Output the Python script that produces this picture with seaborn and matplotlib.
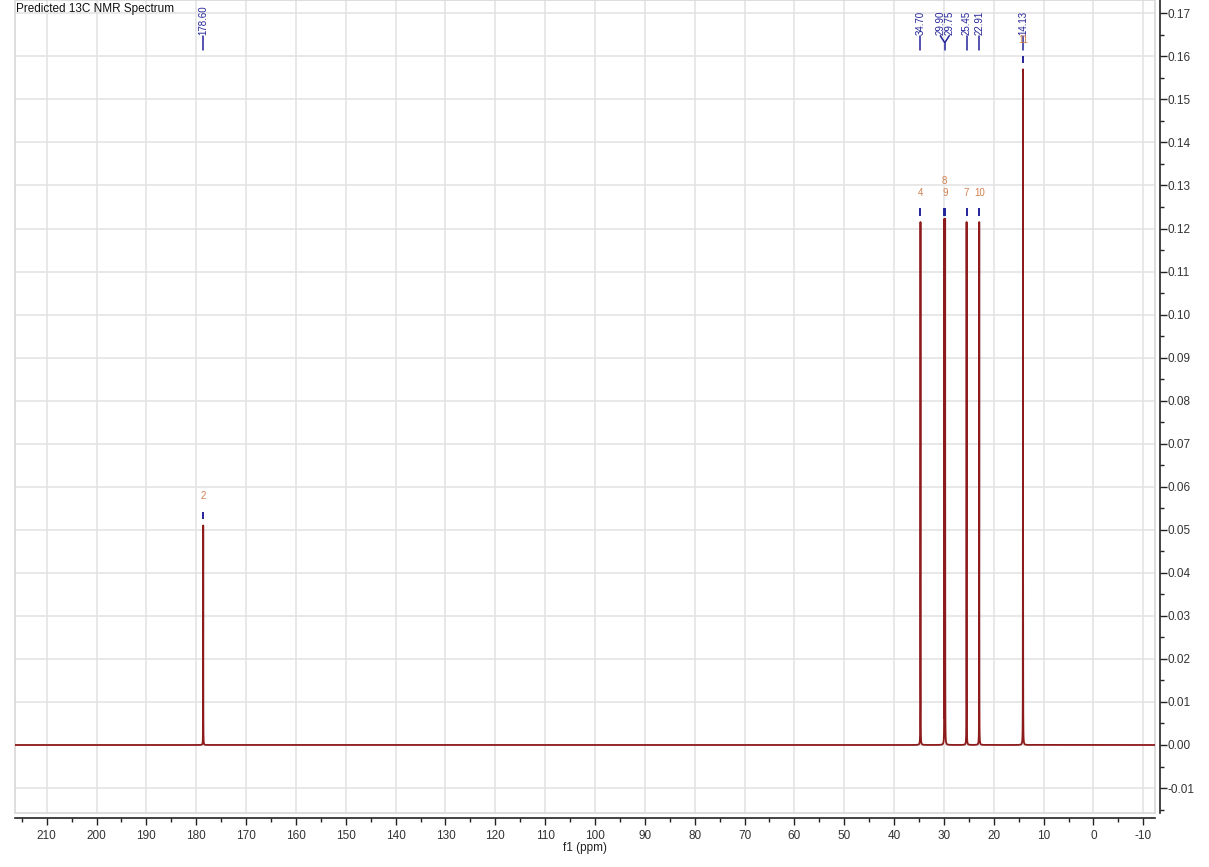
import numpy as np
import pandas as pd
import matplotlib
matplotlib.use("Agg")
import matplotlib.pyplot as plt
from matplotlib.patches import Rectangle
from matplotlib.ticker import MultipleLocator, FormatStrFormatter
import seaborn as sns

# ---- data ----
peak_ppm = [178.60, 34.70, 29.90, 29.75, 25.45, 22.91, 14.13]
peak_height = [0.051, 0.1215, 0.1215, 0.1215, 0.1215, 0.1215, 0.157]
peak_labels = ["178.60", "34.70", "29.90", "29.75", "25.45", "22.91", "14.13"]
atom_labels = ["2", "4", "8", "9", "7", "10", "11"]
title_text = "Predicted 13C NMR Spectrum"
x_label = "f1 (ppm)"

# ---- build spectrum (Lorentzian line shapes from the peak list) ----
hwhm = 0.012
grid = np.concatenate([np.arange(-12.35, 216.36, 0.004), np.array(peak_ppm)])
grid = np.sort(grid)
intensity = np.zeros_like(grid)
for p, h in zip(peak_ppm, peak_height):
    intensity += h * hwhm**2 / ((grid - p) ** 2 + hwhm**2)
df = pd.DataFrame({"ppm": grid, "intensity": intensity})

sns.set_theme(style="white")
plt.rcParams["font.family"] = ["Liberation Sans", "DejaVu Sans"]
plt.rcParams["axes.unicode_minus"] = False

fig = plt.figure(figsize=(12.09, 8.67), dpi=100)
ax = fig.add_axes([15 / 1209, 1 - 813 / 867, (1155 - 15) / 1209, 813 / 867])

red = "#8e1b1b"
blue = "#24249a"
orange = "#d2804e"

sns.lineplot(data=df, x="ppm", y="intensity", ax=ax, color=red, lw=1.3,
             estimator=None, sort=False, zorder=3)

ax.set_xlim(216.36, -12.35)
ax.set_ylim(-0.0158, 0.1731)

# grid
ax.xaxis.set_major_locator(MultipleLocator(10))
ax.xaxis.set_minor_locator(MultipleLocator(5))
ax.yaxis.set_major_locator(MultipleLocator(0.01))
ax.yaxis.set_minor_locator(MultipleLocator(0.005))
ax.yaxis.set_major_formatter(FormatStrFormatter("%.2f"))
ax.grid(True, which="major", color="#e2e2e2", lw=1.1, zorder=0)
ax.set_axisbelow(True)

# spines
ax.spines["top"].set_visible(False)
ax.spines["left"].set_visible(False)
for s in ["right", "bottom"]:
    ax.spines[s].set_visible(True)
    ax.spines[s].set_color("#222222")
    ax.spines[s].set_linewidth(1.2)
    ax.spines[s].set_position(("outward", 3.5))
ax.add_patch(Rectangle((0, 0), 1, 1, transform=ax.transAxes, fill=False,
                       edgecolor="#d8d8d8", lw=1.2, zorder=1, clip_on=False))

ax.yaxis.tick_right()
ax.yaxis.set_label_position("right")
ax.tick_params(axis="both", which="major", direction="out", length=5, width=1,
               colors="#222222", labelsize=8.5, labelcolor="#333333")
ax.tick_params(axis="both", which="minor", direction="out", length=3, width=1,
               colors="#222222")
ax.tick_params(axis="y", which="both", left=False, right=True, pad=0.5)
ax.tick_params(axis="x", which="both", bottom=True, top=False, pad=3.5)
ax.set_xticks(np.arange(-10, 211, 10))
ax.set_xticklabels([str(int(v)) for v in np.arange(-10, 211, 10)])
ax.set_xlabel(x_label, fontsize=8.5, color="#222222", labelpad=0)
ax.set_ylabel("")

# title
ax.text(0.001, 0.996, title_text, transform=ax.transAxes, ha="left", va="top",
        fontsize=8.5, color="#111111")

# blue integration ticks above peaks
for p, h in zip(peak_ppm, peak_height):
    ax.plot([p, p], [h + 0.0015, h + 0.0032], color=blue, lw=1.4, zorder=4,
            solid_capstyle="butt")

# group close peaks
groups = []
for i, p in enumerate(peak_ppm):
    if groups and abs(peak_ppm[groups[-1][-1]] - p) < 0.5:
        groups[-1].append(i)
    else:
        groups.append([i])

label_bottom = 0.1650
knee = 0.1633
line_end = 0.1615
spread = 1.8
for g in groups:
    n = len(g)
    center = np.mean([peak_ppm[i] for i in g])
    top = max(peak_height[i] for i in g)
    # atom number labels (stacked)
    for k, i in enumerate(g):
        lvl = n - 1 - k
        ax.annotate(atom_labels[i], xy=(center, top + 0.0068), xytext=(0, 8.6 * lvl),
                    textcoords="offset points", ha="center", va="center",
                    fontsize=7, color=orange, zorder=5)
    # shift labels (higher ppm to the left on the reversed axis)
    for k, i in enumerate(g):
        lx = center - (k - (n - 1) / 2) * spread
        ax.text(lx, label_bottom, peak_labels[i], rotation=90, ha="center",
                va="bottom", fontsize=7, color=blue, zorder=5)
        if n == 1:
            ax.plot([lx, lx], [label_bottom - 0.0002, line_end], color=blue, lw=1.1, zorder=4)
        else:
            ax.plot([lx, peak_ppm[i]], [label_bottom - 0.0002, knee], color=blue, lw=1.1, zorder=4)
    if n > 1:
        ax.plot([center, center], [knee, line_end], color=blue, lw=1.1, zorder=4)

fig.savefig("out.png", dpi=100)
